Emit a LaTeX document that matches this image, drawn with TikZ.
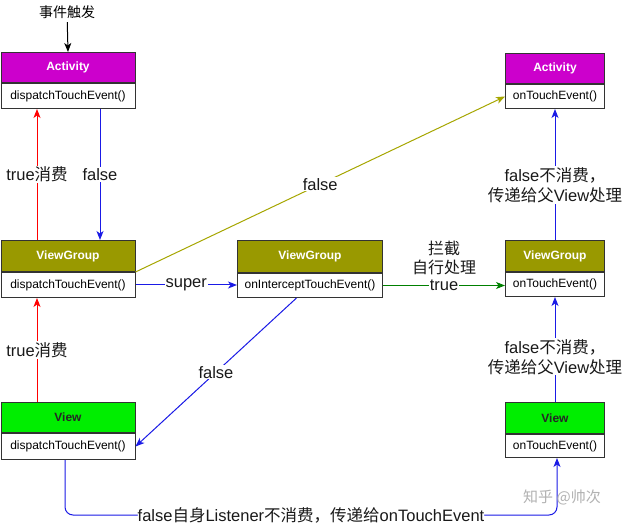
\documentclass[tikz,border=0pt]{standalone}
\usepackage{fontspec}
\setmainfont{Liberation Sans}
\newfontfamily\cjk{Noto Sans CJK SC}
\usetikzlibrary{arrows.meta}
\definecolor{purp}{HTML}{CC00CC}
\definecolor{olivehd}{HTML}{999900}
\definecolor{greenhd}{HTML}{00EE00}
\definecolor{redc}{HTML}{FF0000}
\definecolor{bluec}{HTML}{1A1AE6}
\definecolor{olivec}{HTML}{A6A600}
\definecolor{greenc}{HTML}{008000}
\tikzset{
  box/.style={draw=black!80, line width=1pt, inner sep=0pt, anchor=north west, fill=white,
    font=\fontsize{12}{14}\selectfont},
  hdr/.style={box, font=\bfseries\fontsize{12}{14}\selectfont, text=white},
  lbl/.style={fill=white, inner sep=1pt, text=black!90, font=\fontsize{16.5}{20}\selectfont},
  arr/.style={line width=1pt, -{Stealth[length=9pt,width=7pt,inset=2.5pt]}}
}
\begin{document}
\begin{tikzpicture}[x=1pt,y=-1pt]
\useasboundingbox[fill=white] (0,0) rectangle (625,524);
% start text
\node[font=\cjk\fontsize{14}{16}\selectfont] (start) at (67,12) {事件触发};
% boxes
\node[hdr, fill=purp, minimum width=134pt, minimum height=30pt] (actLh) at (0.5,52) {Activity};
\node[box, minimum width=134pt, minimum height=25pt] (actL) at (actLh.south west) {dispatchTouchEvent()};
\node[hdr, fill=olivehd, minimum width=134pt, minimum height=31pt] (vgLh) at (0.5,240) {ViewGroup};
\node[box, minimum width=134pt, minimum height=25pt] (vgL) at (vgLh.south west) {dispatchTouchEvent()};
\node[hdr, fill=olivehd, minimum width=145pt, minimum height=32pt] (vgMh) at (237,240) {ViewGroup};
\node[box, minimum width=145pt, minimum height=24pt] (vgM) at (vgMh.south west) {onInterceptTouchEvent()};
\node[hdr, fill=purp, minimum width=99pt, minimum height=30pt] (actRh) at (505,53) {Activity};
\node[box, minimum width=99pt, minimum height=24pt] (actR) at (actRh.south west) {onTouchEvent()};
\node[hdr, fill=olivehd, minimum width=99pt, minimum height=31pt] (vgRh) at (505,240) {ViewGroup};
\node[box, minimum width=99pt, minimum height=24pt] (vgR) at (vgRh.south west) {onTouchEvent()};
\node[hdr, fill=greenhd, text=black!85, minimum width=134pt, minimum height=30pt] (vLh) at (0.5,402) {View};
\node[box, minimum width=134pt, minimum height=26pt] (vL) at (vLh.south west) {dispatchTouchEvent()};
\node[hdr, fill=greenhd, text=black!85, minimum width=99pt, minimum height=31pt] (vRh) at (505,402) {View};
\node[box, minimum width=99pt, minimum height=23pt] (vR) at (vRh.south west) {onTouchEvent()};
% connectors
\draw[arr, black] (start) -- (actLh.north);
\draw[arr, redc] ([xshift=36.5pt]vgLh.north west) -- node[lbl]{true{\cjk 消费}} ([xshift=36.5pt]actL.south west);
\draw[arr, bluec] ([xshift=99.5pt]actL.south west) -- node[lbl]{false} ([xshift=99.5pt]vgLh.north west);
\draw[arr, olivec] (vgL.north east) -- node[lbl]{false} (actR.west);
\draw[arr, bluec] (vgL.east) -- node[lbl]{super} (vgL.east -| vgM.west);
\draw[arr, greenc] (vgM.east) -- node[lbl]{true}
  node[anchor=south, yshift=7pt, align=center, text=black!90, font=\cjk\fontsize{16}{19}\selectfont]{拦截\\自行处理} (vgM.east -| vgR.west);
\draw[arr, bluec] (vgRh.north) -- node[lbl, pos=0.42, align=center]{false{\cjk 不消费，}\\{\cjk 传递给父}View{\cjk 处理}} (actR.south);
\draw[arr, bluec] ([xshift=-13.5pt]vgM.south) -- node[lbl]{false} (vL.east);
\draw[arr, redc] ([xshift=36.5pt]vLh.north west) -- node[lbl]{true{\cjk 消费}} ([xshift=36.5pt]vgL.south west);
\draw[arr, bluec] (vRh.north) -- node[lbl, pos=0.43, align=center]{false{\cjk 不消费，}\\{\cjk 传递给父}View{\cjk 处理}} (vgR.south);
\draw[arr, bluec, rounded corners=8pt] ([xshift=64.5pt]vL.south west) -- ++(0,55) -|
  node[lbl, pos=0.25, inner sep=0pt]{false{\cjk 自身}Listener{\cjk 不消费，传递给}onTouchEvent} ([xshift=2pt]vR.south);
% watermark
\node[text=black!30, font=\cjk\fontsize{15}{17}\selectfont] (wm) at (562,497) {知乎 @帅次};
\end{tikzpicture}
\end{document}
